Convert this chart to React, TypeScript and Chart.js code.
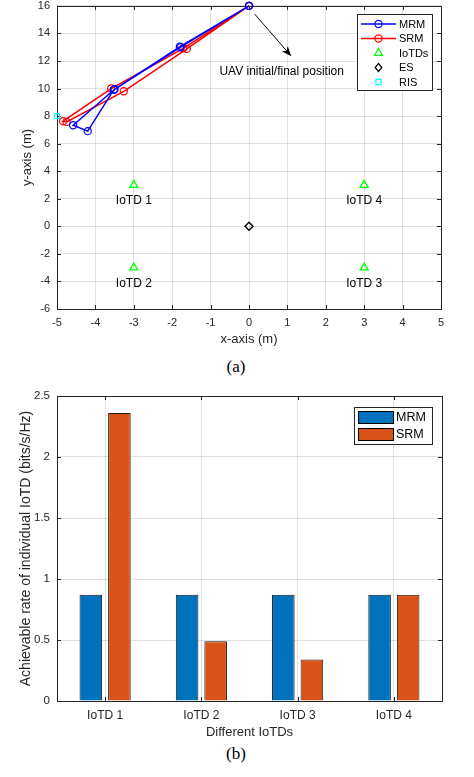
import { useEffect, useRef } from "react";
import { Chart, registerables, type Plugin } from "chart.js";

Chart.register(...registerables);

const FONT = "'Liberation Sans', Arial, Helvetica, sans-serif";
const INK = "#262626";
const GRID = "rgba(0,0,0,0.12)";

// ---- (a) UAV trajectory ----
const MRM_X = [0, -1.8, -3.52, -4.2, -4.58, -3.5, -1.78, 0];
const MRM_Y = [16, 13.04, 9.92, 6.91, 7.34, 9.95, 13.0, 16];
const SRM_X = [0, -1.71, -3.59, -4.84, -4.75, -3.26, -1.62, 0];
const SRM_Y = [16, 12.92, 10.0, 7.63, 7.58, 9.8, 12.88, 16];
const IOTD_NAMES = ["IoTD 1", "IoTD 2", "IoTD 3", "IoTD 4"];
const IOTD_X = [-3, -3, 3, 3];
const IOTD_Y = [3, -3, -3, 3];
const ES_X = [0];
const ES_Y = [0];
const RIS_X = [-5];
const RIS_Y = [8];
const X_RANGE = [-5, 5];
const Y_RANGE = [-6, 16];
const UAV_NOTE = "UAV initial/final position";
const UAV_ARROW = { from: [0.15, 15.4], to: [1.1, 12.35], text: [0.85, 11.2] };

// ---- (b) achievable rate ----
const RATE_CATS = ["IoTD 1", "IoTD 2", "IoTD 3", "IoTD 4"];
const RATE_MRM = [0.87, 0.87, 0.87, 0.87];
const RATE_SRM = [2.36, 0.49, 0.34, 0.87];

const pts = (xs: number[], ys: number[]) => xs.map((x, i) => ({ x, y: ys[i] }));
const plainTick = (v: any) => String(Number(v));

function marker(ctx: CanvasRenderingContext2D, style: string, x: number, y: number, r: number) {
  ctx.beginPath();
  if (style === "circle") {
    ctx.arc(x, y, r, 0, Math.PI * 2);
  } else if (style === "triangle") {
    ctx.moveTo(x, y - r);
    ctx.lineTo(x + r * 0.866, y + r * 0.5);
    ctx.lineTo(x - r * 0.866, y + r * 0.5);
    ctx.closePath();
  } else if (style === "rectRot") {
    ctx.moveTo(x, y - r);
    ctx.lineTo(x + r * 0.85, y);
    ctx.lineTo(x, y + r);
    ctx.lineTo(x - r * 0.85, y);
    ctx.closePath();
  } else {
    const h = r * Math.SQRT1_2;
    ctx.rect(x - h, y - h, 2 * h, 2 * h);
  }
  ctx.stroke();
}

// box around plot + inward ticks, like MATLAB "box on"
const framePlugin: Plugin = {
  id: "frame",
  beforeDatasetsDraw(chart) {
    const { ctx, chartArea: a } = chart;
    const xs = chart.scales.x;
    const ys = chart.scales.y;
    ctx.save();
    ctx.strokeStyle = INK;
    ctx.lineWidth = 1;
    ctx.beginPath();
    xs.ticks.forEach((_, i) => {
      const p = Math.round(xs.getPixelForTick(i)) + 0.5;
      ctx.moveTo(p, a.bottom);
      ctx.lineTo(p, a.bottom - 4);
      ctx.moveTo(p, a.top);
      ctx.lineTo(p, a.top + 4);
    });
    ys.ticks.forEach((_, i) => {
      const p = Math.round(ys.getPixelForTick(i)) + 0.5;
      ctx.moveTo(a.left, p);
      ctx.lineTo(a.left + 4, p);
      ctx.moveTo(a.right, p);
      ctx.lineTo(a.right - 4, p);
    });
    ctx.stroke();
    ctx.strokeRect(Math.round(a.left) + 0.5, Math.round(a.top) + 0.5, Math.round(a.right - a.left), Math.round(a.bottom - a.top));
    ctx.restore();
  },
};

const trajNotes: Plugin = {
  id: "trajNotes",
  afterDatasetsDraw(chart) {
    const { ctx } = chart;
    const xs = chart.scales.x;
    const ys = chart.scales.y;
    ctx.save();
    ctx.fillStyle = "#000";
    ctx.font = `12px ${FONT}`;
    ctx.textAlign = "center";
    ctx.textBaseline = "middle";
    IOTD_NAMES.forEach((n, i) => {
      ctx.fillText(n, xs.getPixelForValue(IOTD_X[i]), ys.getPixelForValue(IOTD_Y[i]) + 16);
    });
    ctx.fillText(UAV_NOTE, xs.getPixelForValue(UAV_ARROW.text[0]), ys.getPixelForValue(UAV_ARROW.text[1]));
    const x1 = xs.getPixelForValue(UAV_ARROW.from[0]);
    const y1 = ys.getPixelForValue(UAV_ARROW.from[1]);
    const x2 = xs.getPixelForValue(UAV_ARROW.to[0]);
    const y2 = ys.getPixelForValue(UAV_ARROW.to[1]);
    const ang = Math.atan2(y2 - y1, x2 - x1);
    ctx.strokeStyle = "#000";
    ctx.lineWidth = 1;
    ctx.beginPath();
    ctx.moveTo(x1, y1);
    ctx.lineTo(x2 - 6 * Math.cos(ang), y2 - 6 * Math.sin(ang));
    ctx.stroke();
    ctx.beginPath();
    ctx.moveTo(x2, y2);
    ctx.lineTo(x2 - 10 * Math.cos(ang) + 4 * Math.sin(ang), y2 - 10 * Math.sin(ang) - 4 * Math.cos(ang));
    ctx.lineTo(x2 - 7 * Math.cos(ang), y2 - 7 * Math.sin(ang));
    ctx.lineTo(x2 - 10 * Math.cos(ang) - 4 * Math.sin(ang), y2 - 10 * Math.sin(ang) + 4 * Math.cos(ang));
    ctx.closePath();
    ctx.fill();

    // legend
    const L = 357, T = 14, R = 432, B = 90;
    ctx.fillStyle = "#fff";
    ctx.fillRect(L, T, R - L, B - T);
    ctx.strokeStyle = INK;
    ctx.strokeRect(L + 0.5, T + 0.5, R - L, B - T);
    ctx.textAlign = "left";
    ctx.font = `11px ${FONT}`;
    chart.data.datasets.forEach((d: any, i) => {
      const y = T + 10 + i * 14.5;
      ctx.strokeStyle = d.borderColor;
      if (d.showLine) {
        ctx.lineWidth = 1.5;
        ctx.beginPath();
        ctx.moveTo(361, y);
        ctx.lineTo(396, y);
        ctx.stroke();
      }
      ctx.lineWidth = 1.2;
      marker(ctx, d.pointStyle, 378.5, y, d.pointRadius);
      ctx.fillStyle = "#000";
      ctx.fillText(d.label, 399, y + 0.5);
    });
    ctx.restore();
  },
};

const rateLegend: Plugin = {
  id: "rateLegend",
  afterDraw(chart) {
    const { ctx } = chart;
    const L = 354, T = 27, R = 432, B = 64;
    ctx.save();
    ctx.fillStyle = "#fff";
    ctx.fillRect(L, T, R - L, B - T);
    ctx.strokeStyle = INK;
    ctx.lineWidth = 1;
    ctx.strokeRect(L + 0.5, T + 0.5, R - L, B - T);
    ctx.font = `12.5px ${FONT}`;
    ctx.textBaseline = "middle";
    ctx.textAlign = "left";
    chart.data.datasets.forEach((d: any, i) => {
      const y = T + 4 + i * 17;
      ctx.fillStyle = d.backgroundColor;
      ctx.fillRect(358, y, 35, 12);
      ctx.strokeStyle = "#000";
      ctx.strokeRect(358.5, y + 0.5, 35, 12);
      ctx.fillStyle = "#000";
      ctx.fillText(d.label, 396, y + 6.5);
    });
    ctx.restore();
  },
};

function Trajectory() {
  const ref = useRef<HTMLCanvasElement>(null);
  useEffect(() => {
    if (!ref.current) return;
    const H = 352;
    const chart = new Chart(ref.current, {
      type: "scatter",
      data: {
        datasets: [
          {
            label: "MRM",
            data: pts(MRM_X, MRM_Y),
            showLine: true,
            borderColor: "#0000ff",
            backgroundColor: "transparent",
            borderWidth: 1.5,
            pointStyle: "circle",
            pointRadius: 3.6,
            pointBorderWidth: 1.2,
            pointBackgroundColor: "transparent",
            clip: false,
          },
          {
            label: "SRM",
            data: pts(SRM_X, SRM_Y),
            showLine: true,
            borderColor: "#ff0000",
            backgroundColor: "transparent",
            borderWidth: 1.5,
            pointStyle: "circle",
            pointRadius: 3.6,
            pointBorderWidth: 1.2,
            pointBackgroundColor: "transparent",
            clip: false,
          },
          {
            label: "IoTDs",
            data: pts(IOTD_X, IOTD_Y),
            borderColor: "#00ff00",
            backgroundColor: "transparent",
            pointStyle: "triangle",
            pointRadius: 4.6,
            pointBorderWidth: 1.3,
          },
          {
            label: "ES",
            data: pts(ES_X, ES_Y),
            borderColor: "#000000",
            backgroundColor: "transparent",
            pointStyle: "rectRot",
            pointRadius: 4,
            pointBorderWidth: 1.4,
          },
          {
            label: "RIS",
            data: pts(RIS_X, RIS_Y),
            borderColor: "#00ffff",
            backgroundColor: "transparent",
            pointStyle: "rect",
            pointRadius: 3.6,
            pointBorderWidth: 1.2,
            clip: false,
          },
        ] as any,
      },
      options: {
        animation: false,
        responsive: true,
        maintainAspectRatio: false,
        layout: { padding: { top: 4, right: 33, left: 0, bottom: 0 } },
        plugins: { legend: { display: false }, tooltip: { enabled: false } },
        scales: {
          x: {
            type: "linear",
            min: X_RANGE[0],
            max: X_RANGE[1],
            ticks: { stepSize: 1, color: INK, font: { size: 11, family: FONT }, padding: 7, callback: plainTick },
            grid: { color: GRID, drawTicks: false },
            border: { display: false },
            title: { display: true, text: "x-axis (m)", color: INK, font: { size: 13, family: FONT }, padding: { top: 0, bottom: 5 } },
            afterFit: (s: any) => {
              s.height = H - 309;
              s.paddingLeft = 0;
              s.paddingRight = 0;
            },
          },
          y: {
            min: Y_RANGE[0],
            max: Y_RANGE[1],
            ticks: { stepSize: 2, color: INK, font: { size: 11, family: FONT }, padding: 7, callback: plainTick },
            grid: { color: GRID, drawTicks: false },
            border: { display: false },
            title: { display: true, text: "y-axis (m)", color: INK, font: { size: 13, family: FONT }, padding: { top: 20, bottom: 0 } },
            afterFit: (s: any) => {
              s.width = 57;
              s.paddingTop = 0;
              s.paddingBottom = 0;
            },
          },
        },
      },
      plugins: [framePlugin, trajNotes],
    });
    return () => chart.destroy();
  }, []);
  return (
    <div style={{ position: "absolute", left: 0, top: 0, width: 474, height: 352 }}>
      <canvas ref={ref} />
    </div>
  );
}

function RateBars() {
  const ref = useRef<HTMLCanvasElement>(null);
  useEffect(() => {
    if (!ref.current) return;
    const H = 362;
    const chart = new Chart(ref.current, {
      type: "bar",
      data: {
        labels: RATE_CATS,
        datasets: [
          { label: "MRM", data: RATE_MRM, backgroundColor: "#0072bd", borderColor: "#1a1a1a", borderWidth: 1 },
          { label: "SRM", data: RATE_SRM, backgroundColor: "#d95319", borderColor: "#1a1a1a", borderWidth: 1 },
        ],
      },
      options: {
        animation: false,
        responsive: true,
        maintainAspectRatio: false,
        layout: { padding: { top: 16, right: 32, left: 0, bottom: 0 } },
        datasets: { bar: { categoryPercentage: 0.594, barPercentage: 0.79 } },
        plugins: { legend: { display: false }, tooltip: { enabled: false } },
        scales: {
          x: {
            ticks: { color: INK, font: { size: 12, family: FONT }, padding: 7 },
            grid: { color: GRID, drawTicks: false, offset: false },
            border: { display: false },
            title: { display: true, text: "Different IoTDs", color: INK, font: { size: 13, family: FONT }, padding: { top: 0, bottom: 2 } },
            afterFit: (s: any) => {
              s.height = H - 321;
              s.paddingLeft = 0;
              s.paddingRight = 0;
            },
          },
          y: {
            min: 0,
            max: 2.5,
            ticks: { stepSize: 0.5, color: INK, font: { size: 11.5, family: FONT }, padding: 7, callback: plainTick },
            grid: { color: GRID, drawTicks: false },
            border: { display: false },
            title: {
              display: true,
              text: "Achievable rate of individual IoTD (bits/s/Hz)",
              color: INK,
              font: { size: 14, family: FONT },
              padding: { top: 17.5, bottom: 0 },
            },
            afterFit: (s: any) => {
              s.width = 57;
              s.paddingTop = 0;
              s.paddingBottom = 0;
            },
          },
        },
      },
      plugins: [framePlugin, rateLegend],
    });
    return () => chart.destroy();
  }, []);
  return (
    <div style={{ position: "absolute", left: 0, top: 380, width: 474, height: 362 }}>
      <canvas ref={ref} />
    </div>
  );
}

const caption: React.CSSProperties = {
  position: "absolute",
  left: 0,
  width: 472,
  textAlign: "center",
  fontFamily: "'Liberation Serif', 'Times New Roman', serif",
  fontSize: 17,
  color: "#000",
};

export default function App() {
  return (
    <div style={{ position: "absolute", left: 0, top: 0, width: 474, height: 777, background: "#fff", overflow: "hidden" }}>
      <Trajectory />
      <div style={{ ...caption, top: 357 }}>(a)</div>
      <RateBars />
      <div style={{ ...caption, top: 744 }}>(b)</div>
    </div>
  );
}
